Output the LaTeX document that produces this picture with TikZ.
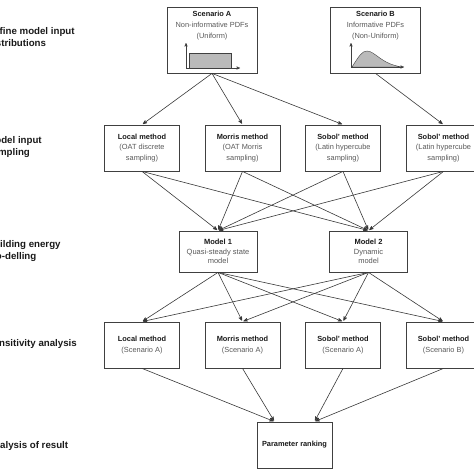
\documentclass[tikz,border=0pt]{standalone}
\usepackage{fontspec}
\setmainfont{Liberation Sans}
\usetikzlibrary{positioning, arrows}

\begin{document}
\begin{tikzpicture}[x=1pt, y=-1pt, >=stealth', shorten >=1pt, auto, node distance=100.5pt, semithick,
    box/.style={draw=black!75, fill=white, line width=0.8pt, align=center, inner sep=1pt, text=black!65, font=\fontsize{7.4}{10.4}\selectfont},
    method/.style={box, minimum width=75pt, minimum height=46pt},
    model/.style={box, minimum width=78pt, minimum height=41pt, font=\fontsize{7.5}{9.8}\selectfont},
    scen/.style={box, minimum width=90pt, minimum height=66pt},
    stage/.style={anchor=west, align=left, inner sep=0pt, text=black!90, font=\fontsize{9.7}{12}\selectfont\bfseries}]
    \useasboundingbox (0,0) rectangle (474,474);
    \clip (0,0) rectangle (474,474);

    % stage labels on the left
    \node[stage] (st1) at (-13,37) {Define model input\\distributions};
    \node[stage] (st2) at (-13,147) {Model input\\sampling};
    \node[stage] (st3) at (-13,251) {Building energy\\mo-delling};
    \node[stage] (st4) at (-13,344) {Sensitivity analysis};
    \node[stage] (st5) at (-13,446) {Analysis of result};

    % scenarios
    \node[scen] (scA) at (212,40) {};
    \node[scen] (scB) [right of=scA, node distance=163.5pt] {};
    \node[align=center, anchor=north, inner sep=1pt, text=black!65, font=\fontsize{7.4}{10.8}\selectfont] (scAtxt) at ([yshift=-3.5pt]scA.north)
        {{\color{black!90}\bfseries Scenario A}\\Non-informative PDFs\\(Uniform)};
    \node[align=center, anchor=north, inner sep=1pt, text=black!65, font=\fontsize{7.4}{10.8}\selectfont] (scBtxt) at ([yshift=-3.5pt]scB.north)
        {{\color{black!90}\bfseries Scenario B}\\Informative PDFs\\(Non-Uniform)};
    \draw[black!75, fill=black!27, thin] (189,53) rectangle (231,68);
    \draw[black!75, thin, <->, shorten >=0pt] (186,43) -- (186,68) -- (240,68);
    \filldraw[black!75, fill=black!27, thin] (352,67) .. controls (359,56) and (362,51) .. (367,51)
        .. controls (375,51) and (381,64) .. (402,67) -- cycle;
    \draw[black!75, thin, <->, shorten >=0pt] (351,43) -- (351,67) -- (404,67);

    % sampling
    \node[method] (loc) at (142,148) {{\color{black!90}\bfseries Local method}\\(OAT discrete\\sampling)};
    \node[method] (mor) [right of=loc] {{\color{black!90}\bfseries Morris method}\\(OAT Morris\\sampling)};
    \node[method] (sob) [right of=mor] {{\color{black!90}\bfseries Sobol' method}\\(Latin hypercube\\sampling)};
    \node[method] (sobB) [right of=sob] {{\color{black!90}\bfseries Sobol' method}\\(Latin hypercube\\sampling)};

    % models
    \node[model] (m1) at (218,251.5) {{\color{black!90}\bfseries Model 1}\\Quasi-steady state\\model};
    \node[model] (m2) [right of=m1, node distance=150.5pt] {{\color{black!90}\bfseries Model 2}\\Dynamic\\model};

    % sensitivity analysis
    \node[method] (saloc) at (142,345) {{\color{black!90}\bfseries Local method}\\(Scenario A)};
    \node[method] (samor) [right of=saloc] {{\color{black!90}\bfseries Morris method}\\(Scenario A)};
    \node[method] (sasob) [right of=samor] {{\color{black!90}\bfseries Sobol' method}\\(Scenario A)};
    \node[method] (sasobB) [right of=sasob] {{\color{black!90}\bfseries Sobol' method}\\(Scenario B)};

    % result
    \node[method] (rank) at (294.5,445) {{\color{black!90}\bfseries Parameter ranking}};
    \coordinate (rankL) at ([xshift=-20pt]rank.north);
    \coordinate (rankR) at ([xshift=20pt]rank.north);

    \path[->, black!78]
    (scA.south) edge (loc.north)
    (scA.south) edge (mor.north)
    (scA.south) edge (sob.north)
    (scB.south) edge (sobB.north)
    (loc.south) edge (m1.north)
    (loc.south) edge (m2.north)
    (mor.south) edge (m1.north)
    (mor.south) edge (m2.north)
    (sob.south) edge (m1.north)
    (sob.south) edge (m2.north)
    (sobB.south) edge (m1.north)
    (sobB.south) edge (m2.north)
    (m1.south) edge (saloc.north)
    (m1.south) edge (samor.north)
    (m1.south) edge (sasob.north)
    (m1.south) edge (sasobB.north)
    (m2.south) edge (saloc.north)
    (m2.south) edge (samor.north)
    (m2.south) edge (sasob.north)
    (m2.south) edge (sasobB.north)
    (saloc.south) edge (rankL)
    (samor.south) edge (rankL)
    (sasob.south) edge (rankR)
    (sasobB.south) edge (rankR);
\end{tikzpicture}
\end{document}
